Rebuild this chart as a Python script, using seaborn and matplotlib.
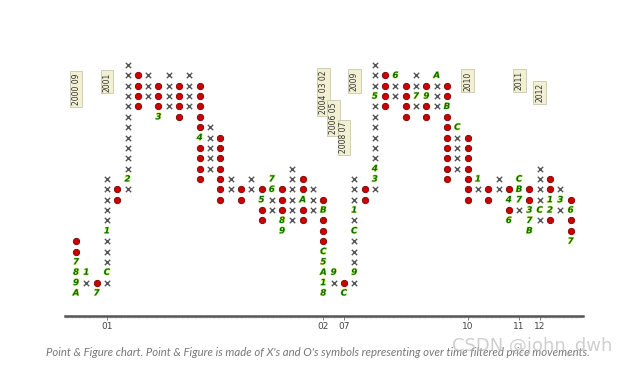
import numpy as np
import pandas as pd
import matplotlib.pyplot as plt
import matplotlib.patheffects as pe
import seaborn as sns

# Point & Figure columns: even columns are O's, odd columns are X's
col_low = [0, 1, 0, 1, 9, 10, 18, 19, 17, 18, 17, 18, 11, 12, 9, 10, 9, 10, 7, 8, 6, 7, 7, 8,
           0, 1, 0, 1, 9, 10, 18, 19, 17, 18, 17, 18, 11, 12, 9, 10, 9, 10, 7, 8, 6, 7, 7, 8, 5]
col_high = [5, 2, 1, 11, 10, 22, 21, 21, 20, 21, 20, 21, 20, 16, 15, 11, 10, 11, 10, 11, 10, 12, 11, 10,
            9, 2, 1, 11, 10, 22, 21, 21, 20, 21, 20, 21, 20, 16, 15, 11, 10, 11, 10, 11, 10, 12, 11, 10, 9]

# month markers (column, box, label) that replace the X/O symbol
month_col = [0, 0, 0, 0, 1, 2, 3, 3, 5, 8, 12, 18, 19, 19, 20, 20, 22,
             24, 24, 24, 24, 24, 24, 25, 26, 27, 27, 27, 29, 29, 29, 31, 33, 34, 35, 36, 37,
             39, 42, 42, 43, 43, 43, 44, 44, 44, 45, 46, 46, 47, 48, 48]
month_row = [3, 2, 1, 0, 2, 0, 2, 6, 11, 17, 15, 9, 10, 11, 7, 6, 9,
             8, 4, 3, 2, 1, 0, 2, 0, 2, 6, 8, 11, 12, 19, 21, 19, 19, 21, 18, 16,
             11, 9, 7, 9, 10, 11, 8, 7, 6, 8, 9, 8, 9, 8, 5]
month_txt = ['7', '8', '9', 'A', '1', '7', 'C', '1', '2', '3', '4', '5', '6', '7', '8', '9', 'A',
             'B', 'C', '5', 'A', '1', '8', '9', 'C', '9', 'C', '1', '3', '4', '5', '6', '7', '9', 'A', 'B', 'C',
             '1', '4', '6', '7', 'B', 'C', '3', '7', 'B', 'C', '1', '2', '3', '6', '7']

# year flags and axis labels
year_col = [0, 3, 24, 25, 26, 27, 38, 43, 45]
year_txt = ['2000 09', '2001', '2004 03 02', '2006 05', '2008 07', '2009', '2010', '2011', '2012']
year_top = [21.2, 21.3, 21.5, 18.4, 16.5, 21.4, 21.4, 21.4, 20.3]
tick_col = [3, 24, 26, 38, 43, 45]
tick_txt = ['01', '02', '07', '10', '11', '12']

month_set = set(zip(month_col, month_row))
rows = []
for c, (lo, hi) in enumerate(zip(col_low, col_high)):
    kind = 'O' if c % 2 == 0 else 'X'
    for r in range(lo, hi + 1):
        if (c, r) not in month_set:
            rows.append({'col': c, 'box': r, 'kind': kind})
boxes = pd.DataFrame(rows)

sns.set_style('white')
fig = plt.figure(figsize=(6.26, 3.69), dpi=100)
ax = fig.add_axes([65 / 626, 53 / 369, 518 / 626, 261 / 369])

sns.scatterplot(data=boxes[boxes.kind == 'O'], x='col', y='box', marker='o', s=21,
                color='#cc0000', edgecolor='#7a0000', linewidth=0.6, ax=ax, legend=False)
sns.scatterplot(data=boxes[boxes.kind == 'X'], x='col', y='box', marker='x', s=15,
                color='#555555', linewidth=1.0, ax=ax, legend=False)

for c, r, t in zip(month_col, month_row, month_txt):
    ax.text(c, r, t, ha='center', va='center', fontsize=6.2, fontweight='bold', style='italic',
            color='#007000', path_effects=[pe.withStroke(linewidth=0.9, foreground='#dfe97a')])

for c, t, top in zip(year_col, year_txt, year_top):
    ax.text(c, top, t, rotation=90, ha='center', va='top', fontsize=5.5, color='#333333',
            bbox=dict(boxstyle='square,pad=0.25', fc='#f1f0d2', ec='#c9c8a8', lw=0.6))

ax.set_xlim(-1.07, 49.2)
ax.set_ylim(-2.22, 22.97)
ax.set_xlabel('')
ax.set_ylabel('')
ax.set_yticks([])
ax.set_xticks(tick_col)
ax.set_xticklabels(tick_txt, fontsize=6.5, color='#444444')
ax.set_xticks(np.arange(-1, 49.25, 0.25), minor=True)
ax.tick_params(axis='x', which='major', bottom=True, length=3, width=0.6, color='#666666', pad=1)
ax.tick_params(axis='x', which='minor', bottom=True, length=2, width=0.3, color='#aaaaaa')
for s in ['top', 'left', 'right']:
    ax.spines[s].set_visible(False)
ax.spines['bottom'].set_color('#555555')
ax.spines['bottom'].set_linewidth(1.8)

fig.text(46 / 626, 1 - 353 / 369, "Point & Figure chart. Point & Figure is made of X's and O's symbols "
         "representing over time filtered price movements.", family=['Lato', 'DejaVu Sans'],
         style='italic', fontsize=8.2, color='#777777', va='center', ha='left')
fig.text(452 / 626, 1 - 346 / 369, 'CSDN @john_dwh', family=['DejaVu Sans'], fontsize=13,
         color='#bbbbbb', alpha=0.7, va='center', ha='left')

fig.savefig('out.png', dpi=100)
